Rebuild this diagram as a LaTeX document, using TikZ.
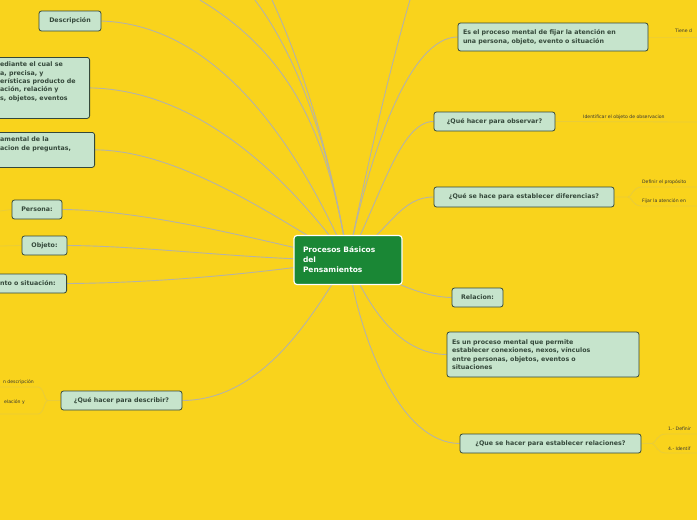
\documentclass[tikz,border=0pt]{standalone}
\usepackage{fontspec}
\setmainfont{DejaVu Sans}
\usetikzlibrary{backgrounds}
\definecolor{bg}{HTML}{F9D31C}
\definecolor{boxf}{HTML}{C6E4CC}
\definecolor{boxd}{HTML}{34483A}
\definecolor{cg}{HTML}{1A8735}
\definecolor{ln}{HTML}{B5B3A6}
\definecolor{sub}{HTML}{E9CC3A}
\tikzset{
  x=1pt,y=-1pt,
  box/.style={draw=boxd,fill=boxf,rounded corners=2.5pt,line width=0.8pt,font=\bfseries\fontsize{6.3}{8.5}\selectfont,text=boxd,inner sep=3pt},
  ctrbox/.style={draw=white,fill=cg,rounded corners=3pt,line width=1.2pt,font=\bfseries\fontsize{7.5}{10}\selectfont,text=white,align=left,inner sep=0pt},
  conn/.style={draw=ln,line width=0.9pt},
  subln/.style={draw=sub,line width=0.8pt},
  lbl/.style={font=\fontsize{4.6}{5.5}\selectfont,text=black!80,inner sep=0pt}
}
\begin{document}
\begin{tikzpicture}
\useasboundingbox (0,0) rectangle (697,520);
\begin{scope}
\clip (0,0) rectangle (697,520);
\node[ctrbox,minimum width=108,minimum height=49,text width=90] (ctr) at (348,260) {Procesos Básicos\\del\\Pensamientos};
\node[box,minimum width=62,minimum height=20] (desc) at (70,21) {Descripción};
\node[box,anchor=north east,minimum width=115,minimum height=61,text width=100,align=left] (defd) at (90,57) {};
\node[lbl,anchor=north west,font=\bfseries\fontsize{6.3}{8.3}\selectfont,text=boxd,align=left] (defdt) at (0,62) {ediante el cual se\\a, precisa, y\\erísticas producto de\\ación, relación y\\s, objetos, eventos};
\node[box,anchor=north east,minimum width=115,minimum height=35] (preg) at (95,132) {};
\node[lbl,anchor=north west,font=\bfseries\fontsize{6.3}{8.3}\selectfont,text=boxd,align=left] (pregt) at (0,137) {amental de la\\acion de preguntas,};
\node[box,minimum width=50,minimum height=19] (pers) at (37,209.5) {Persona:};
\node[box,minimum width=45,minimum height=19] (obj) at (44.5,245.5) {Objeto:};
\node[box,anchor=east,minimum width=90,minimum height=19] (evt) at (67,283.5) {};
\node[lbl,anchor=west,font=\bfseries\fontsize{6.3}{8.5}\selectfont,text=boxd] (evtt) at (0,283.5) {nto o situación:};
\node[box,minimum width=121,minimum height=19] (desr) at (121.5,400.5) {¿Qué hacer para describir?};
\node[box,minimum width=190,minimum height=28,text width=180,align=left] (aten) at (553,37) {Es el proceso mental de fijar la atención en\\una persona, objeto, evento o situación};
\node[box,minimum width=121,minimum height=19] (obs) at (494.5,121.5) {¿Qué hacer para observar?};
\node[box,minimum width=180,minimum height=20] (dif) at (524,197) {¿Qué se hace para establecer diferencias?};
\node[box,minimum width=51,minimum height=19] (rel) at (477.5,297.5) {Relacion:};
\node[box,minimum width=192,minimum height=45,text width=182,align=left] (rdef) at (543,354.5) {Es un proceso mental que permite\\establecer conexiones, nexos, vínculos\\entre personas, objetos, eventos o\\situaciones};
\node[box,minimum width=181,minimum height=19] (rq) at (550.5,443.5) {¿Que se hacer para establecer relaciones?};
\node[lbl,anchor=west] (tiene) at (675,31) {Tiene d};
\node[lbl,anchor=west] (ident) at (583,117) {Identificar el objeto de observacion};
\node[lbl,anchor=west] (defp) at (642,182) {Definir el propósito};
\node[lbl,anchor=west] (fija) at (642,201) {Fijar la atención en};
\node[lbl,anchor=west] (r1) at (668,429) {1.- Definir};
\node[lbl,anchor=west] (r4) at (668,449) {4.- Identif};
\node[lbl,anchor=east] (d1) at (34,382) {n descripción};
\node[lbl,anchor=east] (d2) at (25,402) {elación y};
\coordinate (t1) at (200,0);
\coordinate (t2) at (255,0);
\coordinate (t3) at (272,0);
\coordinate (t4) at (410,0);
\coordinate (rr1) at (697,37);
\coordinate (rr2) at (697,122);
\coordinate (ll1) at (0,211);
\coordinate (ll2) at (0,246);
\begin{scope}[on background layer]
\fill[bg] (-50,-50) rectangle (750,570);
\foreach \t in {t1,t2,t3} \draw[conn] (ctr.center) .. controls (330,150) and (300,60) .. (\t);
\draw[conn] (ctr.center) .. controls (370,150) and (395,50) .. (t4);
\draw[conn] (ctr.center) .. controls (300,150) and (220,25) .. (desc.east);
\draw[conn] (ctr.center) .. controls (290,180) and (200,90) .. (defd.east);
\draw[conn] (ctr.center) .. controls (280,220) and (180,150) .. (preg.east);
\draw[conn] (ctr.center) .. controls (280,245) and (150,210) .. (pers.east);
\draw[conn] (ctr.center) .. controls (250,260) and (150,246) .. (obj.east);
\draw[conn] (ctr.center) .. controls (250,275) and (150,283) .. (evt.east);
\draw[conn] (ctr.center) .. controls (320,300) and (270,400) .. (desr.east);
\draw[conn] (ctr.center) .. controls (370,150) and (410,37) .. (aten.west);
\draw[conn] (ctr.center) .. controls (380,200) and (400,121) .. (obs.west);
\draw[conn] (ctr.center) .. controls (390,230) and (400,197) .. (dif.west);
\draw[conn] (ctr.center) .. controls (390,280) and (420,297) .. (rel.west);
\draw[conn] (ctr.center) .. controls (370,310) and (400,354) .. (rdef.west);
\draw[conn] (ctr.center) .. controls (360,340) and (400,443) .. (rq.west);
\draw[subln] (aten.east) -- (660,37) -- (rr1);
\draw[subln] (obs.east) -- (rr2);
\draw[subln] (dif.east) -- (628,197) .. controls (632,197) and (632,187) .. (642,187) -- (697,187);
\draw[subln] (628,197) .. controls (632,197) and (632,206) .. (642,206) -- (697,206);
\draw[subln] (rq.east) -- (652,443.5) .. controls (656,443.5) and (656,434) .. (666,434) -- (697,434);
\draw[subln] (652,443.5) .. controls (656,443.5) and (656,453) .. (666,453) -- (697,453);
\draw[subln] (desr.west) -- (48,400.5) .. controls (44,400.5) and (44,387) .. (38,387) -- (0,387);
\draw[subln] (48,400.5) .. controls (44,400.5) and (44,414) .. (38,414) -- (0,414);
\draw[subln] (pers.west) -- (ll1);
\draw[subln] (obj.west) -- (ll2);
\end{scope}
\end{scope}
\end{tikzpicture}
\end{document}
